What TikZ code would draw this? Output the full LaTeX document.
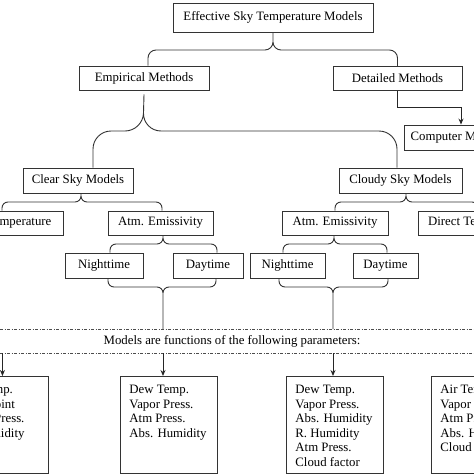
\documentclass[tikz,border=0pt]{standalone}
\usepackage{fontspec}
\setmainfont{Liberation Serif}
\usetikzlibrary{arrows.meta}

\newcommand{\plist}[1]{\parbox[t][79pt][t]{79pt}{#1}}

\tikzset{
  box/.style={draw=black!80, line width=0.9pt, minimum height=24, inner sep=0pt,
    font=\fontsize{12.8}{14.5}\selectfont},
  parbox/.style={box, anchor=north west, minimum width=97, inner xsep=9, inner ysep=9},
  curl/.style={draw=black!80, line width=0.9pt, rounded corners=8pt},
  link/.style={draw=black!85, line width=0.9pt, -{Stealth[length=6pt,width=5pt]}},
  sep/.style={draw=black!70, line width=0.7pt, dash pattern=on 3pt off 1.5pt on 1pt off 1.5pt}
}

\begin{document}
\begin{tikzpicture}[x=1pt, y=-1pt]
    \useasboundingbox (0,0) rectangle (474,474);
    \clip (0,0) rectangle (474,474);

    % boxes
    \node[box, minimum width=200, minimum height=29] (skymodels) at (273,17.5) {Effective Sky Temperature Models};
    \node[box, minimum width=130] (empirical) at (144,78) {Empirical Methods};
    \node[box, minimum width=129] (detailed) at (397.5,78.5) {Detailed Methods};
    \node[box, minimum width=106, minimum height=25] (computer) at (457,137.5) {Computer Models};
    \node[box, minimum width=110, minimum height=25] (clearsky) at (78,180.5) {Clear Sky Models};
    \node[box, minimum width=123, minimum height=25] (cloudysky) at (400.5,180.5) {Cloudy Sky Models};
    \node[box, minimum width=108] (airtemp) at (9,223) {Air Temperature};
    \node[box, minimum width=105] (emisclear) at (160.5,223) {Atm. Emissivity};
    \node[box, minimum width=106] (emiscloudy) at (335,223) {Atm. Emissivity};
    \node[box, minimum width=120] (directtemp) at (478,223) {Direct Temperature};
    \node[box, minimum width=78, minimum height=25] (nightclear) at (104,265.5) {Nighttime};
    \node[box, minimum width=70, minimum height=25] (dayclear) at (208,265.5) {Daytime};
    \node[box, minimum width=75, minimum height=25] (nightcloudy) at (287.5,265.5) {Nighttime};
    \node[box, minimum width=65, minimum height=25] (daycloudy) at (385.5,265.5) {Daytime};

    \node[font=\fontsize{12.8}{14.5}\selectfont] (paramtext) at (232,341) {Models are functions of the following parameters:};

    \node[parbox] (inclearT) at (-49,376) {\plist{Air Temp.\\ Dew Point\\ Vapor Press.\\ R. Humidity}};
    \node[parbox] (inclearE) at (120,376) {\plist{Dew Temp.\\ Vapor Press.\\ Atm Press.\\ Abs. Humidity}};
    \node[parbox] (incloudyE) at (286,376) {\plist{Dew Temp.\\ Vapor Press.\\ Abs. Humidity\\ R. Humidity\\ Atm Press.\\ Cloud factor}};
    \node[parbox] (incloudyT) at (431,376) {\plist{Air Temp.\\ Vapor Press.\\ Atm Press.\\ Abs. Humidity\\ Cloud factor}};

    % braces
    \coordinate (topmid) at (273,50);
    \draw[curl]
    ([xshift=4]empirical.north) |- (topmid) -- (skymodels.south)
    (detailed.north) |- (topmid) -- (skymodels.south)
    ;

    \coordinate (empmid) at (143,131);
    \draw[curl, rounded corners=18pt]
    ([xshift=15]clearsky.north) |- (empmid) -- ([yshift=-4]empirical.south)
    ([xshift=-3.5]cloudysky.north) |- (empmid) -- ([yshift=-4]empirical.south)
    ;

    \coordinate (clearmid) at (81,202);
    \coordinate (cloudymid) at (406,202);
    \draw[curl, rounded corners=6pt]
    ([xshift=-7]airtemp.north) |- (clearmid) -- (clearmid |- clearsky.south)
    ([xshift=1.5]emisclear.north) |- (clearmid) -- (clearmid |- clearsky.south)
    (emiscloudy.north) |- (cloudymid) -- (cloudymid |- cloudysky.south)
    (directtemp.north) |- (cloudymid) -- (cloudymid |- cloudysky.south)
    ;

    \coordinate (emclmid) at (163,244);
    \coordinate (emcymid) at (334,244);
    \draw[curl, rounded corners=6pt]
    ([xshift=6]nightclear.north) |- (emclmid) -- (emclmid |- emisclear.south)
    ([xshift=9]dayclear.north) |- (emclmid) -- (emclmid |- emisclear.south)
    ([xshift=-4.5]nightcloudy.north) |- (emcymid) -- (emcymid |- emiscloudy.south)
    ([xshift=1.5]daycloudy.north) |- (emcymid) -- (emcymid |- emiscloudy.south)
    ;

    % joins down to the parameter band
    \coordinate (paramtop) at (0,329);
    \coordinate (parambot) at (0,353);
    \coordinate (clearjoin) at (163,287);
    \coordinate (cloudyjoin) at (333,287);
    \draw[curl, rounded corners=6pt]
    ([xshift=4]nightclear.south) |- (clearjoin) -- (clearjoin |- paramtop)
    ([xshift=8]dayclear.south) |- (clearjoin) -- (clearjoin |- paramtop)
    ([xshift=-8.5]nightcloudy.south) |- (cloudyjoin) -- (cloudyjoin |- paramtop)
    ([xshift=2.5]daycloudy.south) |- (cloudyjoin) -- (cloudyjoin |- paramtop)
    ;

    \draw[sep] (paramtop) -- +(480,0) (parambot) -- +(480,0);

    % arrows
    \coordinate (detbend) at (461,107);
    \draw[link] (detailed.south) |- (detbend) -- (detbend |- computer.north);
    \draw[link] ([xshift=2.5]inclearT.north |- parambot) -- ([xshift=2.5]inclearT.north);
    \draw[link] (clearjoin |- parambot) -- (clearjoin |- inclearE.north);
    \draw[link] (cloudyjoin |- parambot) -- (cloudyjoin |- incloudyE.north);
    \draw[link] (incloudyT.north |- parambot) -- (incloudyT.north);

\end{tikzpicture}
\end{document}
